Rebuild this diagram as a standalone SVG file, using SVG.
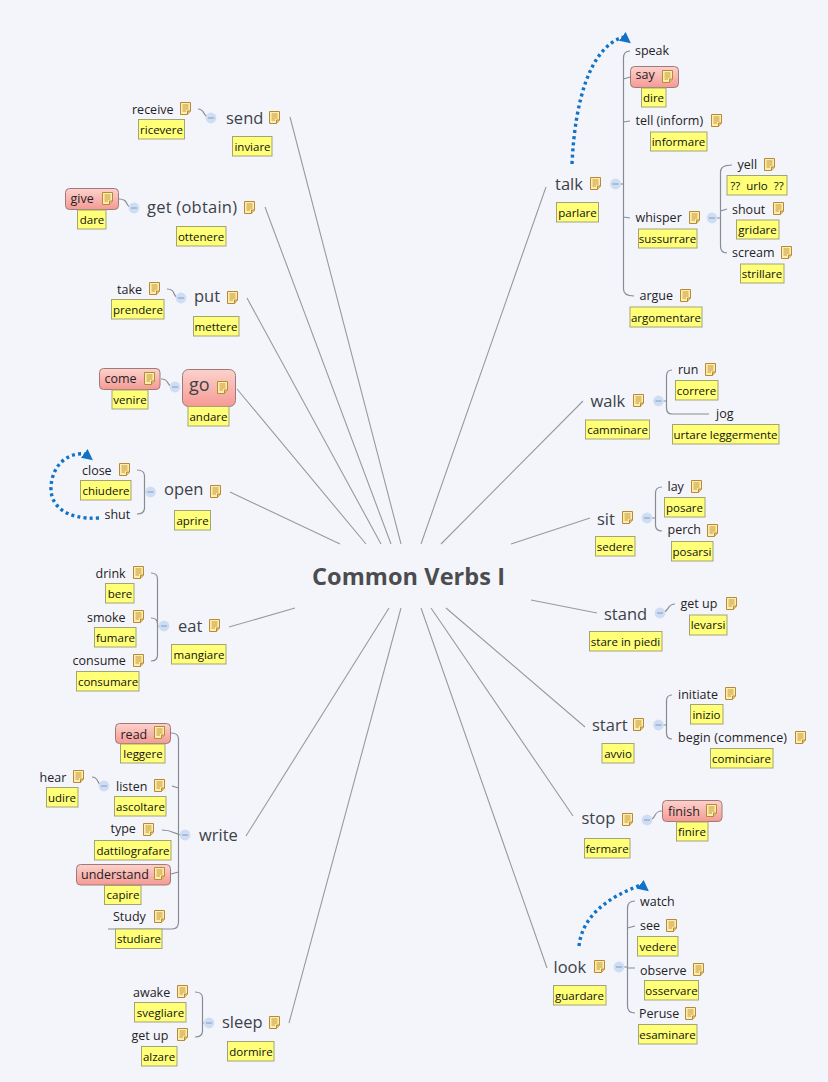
<svg xmlns="http://www.w3.org/2000/svg" width="828" height="1082" viewBox="0 0 828 1082">
<style>
text{font-family:"Open Sans","Noto Sans","Liberation Sans",sans-serif;}
.m{font-size:16.500px;fill:#3d4149}
.s{font-size:12.500px;fill:#1f2228}
.c{font-size:11.500px;fill:#111;text-anchor:middle}
.l{fill:#ffff78;stroke:#a3a37a;stroke-width:1}
.p{fill:url(#pink);stroke:#a07a7a;stroke-width:1}
.t{fill:none;stroke:#9a9a9a;stroke-width:1.1}
.b{fill:none;stroke:#868b94;stroke-width:1.2}
.r{fill:none;stroke:#1272c8;stroke-width:3.4;stroke-dasharray:3 3.2}
</style>
<defs>
<linearGradient id="pink" x1="0" y1="0" x2="0" y2="1"><stop offset="0" stop-color="#fcd2cc"/><stop offset="1" stop-color="#f59a94"/></linearGradient>
<marker id="arrow" viewBox="0 0 11 11" refX="1" refY="5.500" markerWidth="11" markerHeight="11" markerUnits="userSpaceOnUse" orient="38"><path d="M0 0L11 5.500L0 11Z" fill="#1272c8"/></marker>
<g id="note"><path d="M.5 .5H10.500V9L7.500 12.500H.5Z" fill="#fbeeb0" stroke="#b88a35"/><path d="M2.500 3H8.500M2.500 5H8.500M2.500 7H8.500M2.500 9H6" stroke="#c9962f" fill="none"/><path d="M10.500 9H7.500V12.500" fill="#e8c870" stroke="#b88a35"/></g>
<g id="tog"><circle r="5.400" fill="#cfddf2"/><path d="M-3 0H3" stroke="#7f9cc8" fill="none"/></g>
</defs>
<rect width="828" height="1082" fill="#f3f5fa"/>
<g id="connectors">
<path class="t" d="M421 544L546 187M401 544L290 117M391 544L265 207M381 544L247 298M366 544L237 389M340 544L230 492M295 608L229 627M389 608L246 836M401 608L289 1023M421 608L547 968M431 608L573 816M446 608L585 727M531 600L597 613M511 544L590 518M441 544L583 401"/>
<path class="b" d="M630 51Q623.500 51 623.500 58V289Q623.500 296 634 296M623.500 79L630 77M623.500 122L630 121M623.500 217L630 218M618 184H623.500"/>
<path class="b" d="M732 165Q720.500 165 720.500 172V246Q720.500 253 727 253M720.500 211L727 209M715 218H720.500"/>
<path class="b" d="M198 109C206 109 202 118 211 118M119 199C130 199 124 208 134 208M167 289C177 289 171 298 181 298M161 379C171 379 165 387 175 387"/>
<path class="b" d="M137 470Q144.500 470 144.500 476V508Q144.500 514 137 514M144.500 492H150"/>
<path class="b" d="M151 573Q157.500 573 157.500 579V655Q157.500 661 151 661M151 618Q157.500 618 157.500 624M157.500 626H164"/>
<path class="b" d="M171 733Q178.500 733 178.500 739V922Q178.500 929 172 929H108M172 786L178.500 788M162 830C175 830 172 835 185 835M171 874L178.500 872M92 777C100 777 96 786 104 786"/>
<path class="b" d="M195 992Q202.500 992 202.500 998V1031Q202.500 1037 195 1037M202.500 1023H209"/>
<path class="b" d="M672 370Q666.500 370 666.500 376V408Q666.500 414 672 414H709M666.500 401H660"/>
<path class="b" d="M662 487Q655.500 487 655.500 493V525Q655.500 531 662 531M655.500 518H648"/>
<path class="b" d="M660 613C670 613 666 604 675 604"/>
<path class="b" d="M672 695Q666.500 695 666.500 701V733Q666.500 739 672 739M666.500 725H659"/>
<path class="b" d="M647 820C658 820 652 811 662 811"/>
<path class="b" d="M635 901Q627.500 901 627.500 908V1006Q627.500 1013 635 1013M627.500 928L635 926M627.500 968H635M619 967H627.500"/>
<path class="r" d="M572 164C575 100 590 48 623 37" marker-end="url(#arrow)"/>
<path class="r" d="M99 518C65 520 50 505 51 487C52 465 68 452 85 454" marker-end="url(#arrow)"/>
<path class="r" d="M579 946C582 918 605 898 641 885" marker-end="url(#arrow)"/>
</g>
<g id="center"><text x="312" y="585" font-size="23.500" font-weight="700" fill="#4a4c50" textLength="193">Common Verbs I</text></g>
<g id="talk"><text class="m" x="555" y="190">talk</text><use href="#note" x="590" y="177"/><use href="#tog" x="615.500" y="184"/><rect class="l" x="556.500" y="202.500" width="42" height="19.500"/><text class="c" x="577.500" y="217">parlare</text></g>
<g id="speak"><text class="s" x="635" y="55">speak</text></g>
<g id="say"><rect class="p" x="630.500" y="66.500" width="48" height="21" rx="4"/><text class="s" x="635.500" y="79">say</text><use href="#note" x="662" y="70"/><rect class="l" x="641.500" y="88" width="24.500" height="19"/><text class="c" x="653.500" y="102">dire</text></g>
<g id="tell"><text class="s" x="635.500" y="125">tell (inform)</text><use href="#note" x="711" y="114"/><rect class="l" x="650.500" y="132" width="56.500" height="19"/><text class="c" x="678.500" y="146">informare</text></g>
<g id="whisper"><text class="s" x="635.500" y="222">whisper</text><use href="#note" x="689" y="211"/><use href="#tog" x="712" y="218"/><rect class="l" x="638.500" y="229" width="58.500" height="19"/><text class="c" x="667.500" y="243">sussurrare</text></g>
<g id="argue"><text class="s" x="639.500" y="300">argue</text><use href="#note" x="680" y="289"/><rect class="l" x="630" y="307" width="72" height="20"/><text class="c" x="666" y="322">argomentare</text></g>
<g id="yell"><text class="s" x="737.500" y="169">yell</text><use href="#note" x="764" y="158"/><rect class="l" x="727" y="175.500" width="60" height="19.500"/><text class="c" x="757" y="190" xml:space="preserve">??  urlo  ??</text></g>
<g id="shout"><text class="s" x="732" y="214">shout</text><use href="#note" x="773" y="202"/><rect class="l" x="736.500" y="220" width="42.500" height="19"/><text class="c" x="757.500" y="234">gridare</text></g>
<g id="scream"><text class="s" x="732" y="257">scream</text><use href="#note" x="781" y="246"/><rect class="l" x="740.500" y="264" width="43.500" height="19"/><text class="c" x="762" y="278">strillare</text></g>
<g id="walk"><text class="m" x="590.500" y="407">walk</text><use href="#note" x="633" y="394"/><use href="#tog" x="658.500" y="401"/><rect class="l" x="585.500" y="420" width="64" height="19"/><text class="c" x="617.500" y="434">camminare</text></g>
<g id="run"><text class="s" x="678" y="374">run</text><use href="#note" x="705" y="363"/><rect class="l" x="675.500" y="380.500" width="42.500" height="19.500"/><text class="c" x="696.500" y="395">correre</text></g>
<g id="jog"><text class="s" x="716" y="418">jog</text><rect class="l" x="672.500" y="424.500" width="106.500" height="19.500"/><text class="c" x="725.500" y="439">urtare leggermente</text></g>
<g id="sit"><text class="m" x="597" y="525">sit</text><use href="#note" x="622" y="511"/><use href="#tog" x="647" y="518"/><rect class="l" x="595.500" y="536.500" width="39.500" height="19.500"/><text class="c" x="615" y="551">sedere</text></g>
<g id="lay"><text class="s" x="667.500" y="491">lay</text><use href="#note" x="691" y="480"/><rect class="l" x="664.500" y="497.500" width="40.500" height="19.500"/><text class="c" x="684.500" y="512">posare</text></g>
<g id="perch"><text class="s" x="667.500" y="534">perch</text><use href="#note" x="707" y="524"/><rect class="l" x="671.500" y="541.500" width="41.500" height="19.500"/><text class="c" x="692" y="556">posarsi</text></g>
<g id="stand"><text class="m" x="604" y="620">stand</text><use href="#tog" x="660" y="613"/><rect class="l" x="589.500" y="631.500" width="72.500" height="19.500"/><text class="c" x="625.500" y="646">stare in piedi</text></g>
<g id="getup2"><text class="s" x="680.500" y="608">get up</text><use href="#note" x="726" y="597"/><rect class="l" x="689.500" y="615" width="37.500" height="20"/><text class="c" x="708" y="629">levarsi</text></g>
<g id="start"><text class="m" x="592" y="731">start</text><use href="#note" x="633" y="718"/><use href="#tog" x="658.500" y="725"/><rect class="l" x="602" y="743.500" width="32" height="19.500"/><text class="c" x="618" y="758">avvio</text></g>
<g id="initiate"><text class="s" x="678" y="699">initiate</text><use href="#note" x="725" y="687"/><rect class="l" x="690.500" y="704.500" width="32.500" height="19.500"/><text class="c" x="706.500" y="719">inizio</text></g>
<g id="begin"><text class="s" x="678" y="742" textLength="109">begin (commence)</text><use href="#note" x="795" y="731"/><rect class="l" x="710.500" y="748.500" width="62.500" height="19.500"/><text class="c" x="741.500" y="763">cominciare</text></g>
<g id="stop"><text class="m" x="581.500" y="824">stop</text><use href="#note" x="622" y="813"/><use href="#tog" x="647" y="820"/><rect class="l" x="584.500" y="838.500" width="45.500" height="19.500"/><text class="c" x="607" y="853">fermare</text></g>
<g id="finish"><rect class="p" x="662.500" y="800.500" width="59.500" height="21" rx="4"/><text class="s" x="668" y="816">finish</text><use href="#note" x="706" y="804"/><rect class="l" x="676.500" y="822" width="31.500" height="19"/><text class="c" x="692" y="836">finire</text></g>
<g id="look"><text class="m" x="553.500" y="973">look</text><use href="#note" x="594" y="960"/><use href="#tog" x="619" y="967"/><rect class="l" x="553.500" y="985.500" width="52.500" height="19.500"/><text class="c" x="579.500" y="1000">guardare</text></g>
<g id="watch"><text class="s" x="640" y="906">watch</text></g>
<g id="see"><text class="s" x="640" y="930">see</text><use href="#note" x="666" y="919"/><rect class="l" x="637.500" y="936.500" width="40.500" height="19.500"/><text class="c" x="658" y="951">vedere</text></g>
<g id="observe"><text class="s" x="640" y="975">observe</text><use href="#note" x="693" y="963"/><rect class="l" x="644.500" y="980.500" width="54" height="19.500"/><text class="c" x="671.500" y="995">osservare</text></g>
<g id="peruse"><text class="s" x="639" y="1018">Peruse</text><use href="#note" x="685" y="1007"/><rect class="l" x="638.500" y="1024.500" width="58.500" height="19.500"/><text class="c" x="667.500" y="1039">esaminare</text></g>
<g id="send"><text class="m" x="226" y="124">send</text><use href="#note" x="269" y="111"/><use href="#tog" x="211" y="118"/><rect class="l" x="232.500" y="136.500" width="39.500" height="19.500"/><text class="c" x="252.500" y="151">inviare</text></g>
<g id="receive"><text class="s" x="132" y="114">receive</text><use href="#note" x="180" y="102"/><rect class="l" x="138.500" y="119.500" width="46" height="19.500"/><text class="c" x="161.500" y="134">ricevere</text></g>
<g id="get"><text class="m" x="147" y="213" textLength="90">get (obtain)</text><use href="#note" x="244" y="201"/><use href="#tog" x="134" y="208"/><rect class="l" x="176.500" y="226.500" width="49.500" height="19.500"/><text class="c" x="201" y="241">ottenere</text></g>
<g id="give"><rect class="p" x="65.500" y="188.500" width="53" height="21" rx="4"/><text class="s" x="70.500" y="203">give</text><use href="#note" x="102" y="192"/><rect class="l" x="77.500" y="210" width="28.500" height="19"/><text class="c" x="92" y="224">dare</text></g>
<g id="put"><text class="m" x="194" y="302">put</text><use href="#note" x="227" y="291"/><use href="#tog" x="181" y="298"/><rect class="l" x="193.500" y="316.500" width="45.500" height="19.500"/><text class="c" x="216" y="331">mettere</text></g>
<g id="take"><text class="s" x="117" y="294">take</text><use href="#note" x="149" y="282"/><rect class="l" x="111.500" y="299.500" width="52.500" height="19.500"/><text class="c" x="138" y="314">prendere</text></g>
<g id="go"><rect class="p" x="182.500" y="369.500" width="53" height="37" rx="6"/><text class="m" x="189" y="391" style="font-size:18px">go</text><use href="#note" x="217" y="381"/><use href="#tog" x="175" y="387"/><rect class="l" x="188" y="406.500" width="41" height="19.500"/><text class="c" x="208.500" y="421">andare</text></g>
<g id="come"><rect class="p" x="99.500" y="368.500" width="60.500" height="21" rx="4"/><text class="s" x="104.500" y="383">come</text><use href="#note" x="144" y="372"/><rect class="l" x="112" y="390" width="36" height="19"/><text class="c" x="130" y="404">venire</text></g>
<g id="open"><text class="m" x="164" y="495">open</text><use href="#note" x="210" y="485"/><use href="#tog" x="150.500" y="492"/><rect class="l" x="174.500" y="510.500" width="36" height="19.500"/><text class="c" x="192.500" y="525">aprire</text></g>
<g id="close"><text class="s" x="82" y="475">close</text><use href="#note" x="119" y="463"/><rect class="l" x="80.500" y="480.500" width="50.500" height="19.500"/><text class="c" x="106" y="495">chiudere</text></g>
<g id="shut"><text class="s" x="104.500" y="519">shut</text></g>
<g id="eat"><text class="m" x="178" y="632">eat</text><use href="#note" x="209" y="619"/><use href="#tog" x="164" y="626"/><rect class="l" x="171.500" y="644.500" width="54.500" height="19.500"/><text class="c" x="199" y="659">mangiare</text></g>
<g id="drink"><text class="s" x="95.500" y="578">drink</text><use href="#note" x="133" y="566"/><rect class="l" x="105.500" y="583.500" width="28.500" height="19.500"/><text class="c" x="120" y="598">bere</text></g>
<g id="smoke"><text class="s" x="87" y="622">smoke</text><use href="#note" x="133" y="610"/><rect class="l" x="94.500" y="627.500" width="41.500" height="19.500"/><text class="c" x="115.500" y="642">fumare</text></g>
<g id="consume"><text class="s" x="72.500" y="665">consume</text><use href="#note" x="133" y="654"/><rect class="l" x="76.500" y="671.500" width="62.500" height="19.500"/><text class="c" x="108" y="686">consumare</text></g>
<g id="write"><text class="m" x="199" y="841">write</text><use href="#tog" x="185" y="835"/></g>
<g id="read"><rect class="p" x="115.500" y="723.500" width="55" height="20" rx="4"/><text class="s" x="120.500" y="739">read</text><use href="#note" x="154" y="726"/><rect class="l" x="120.500" y="744" width="44.500" height="19"/><text class="c" x="143" y="758">leggere</text></g>
<g id="listen"><text class="s" x="116" y="791">listen</text><use href="#note" x="154" y="779"/><use href="#tog" x="104" y="786"/><rect class="l" x="114.500" y="796.500" width="51.500" height="19.500"/><text class="c" x="140.500" y="811">ascoltare</text></g>
<g id="hear"><text class="s" x="39.500" y="782">hear</text><use href="#note" x="73" y="770"/><rect class="l" x="46.500" y="787.500" width="31.500" height="19.500"/><text class="c" x="62" y="802">udire</text></g>
<g id="type"><text class="s" x="110.500" y="833">type</text><use href="#note" x="143" y="823"/><rect class="l" x="94.500" y="840.500" width="76.500" height="19.500"/><text class="c" x="133" y="855">dattilografare</text></g>
<g id="understand"><rect class="p" x="76.500" y="864.500" width="94" height="20.500" rx="4"/><text class="s" x="81" y="879">understand</text><use href="#note" x="154" y="867"/><rect class="l" x="104.500" y="885.500" width="36.500" height="19"/><text class="c" x="123" y="899">capire</text></g>
<g id="study"><text class="s" x="113" y="921">Study</text><use href="#note" x="154" y="910"/><rect class="l" x="115.500" y="929" width="46.500" height="19.500"/><text class="c" x="139" y="943">studiare</text></g>
<g id="sleep"><text class="m" x="222" y="1028">sleep</text><use href="#note" x="269" y="1016"/><use href="#tog" x="209" y="1023"/><rect class="l" x="227.500" y="1041.500" width="46.500" height="19.500"/><text class="c" x="251" y="1056">dormire</text></g>
<g id="awake"><text class="s" x="133" y="997">awake</text><use href="#note" x="177" y="985"/><rect class="l" x="134.500" y="1002.500" width="51.500" height="19.500"/><text class="c" x="160.500" y="1017">svegliare</text></g>
<g id="getup"><text class="s" x="131.500" y="1040">get up</text><use href="#note" x="177" y="1028"/><rect class="l" x="141.500" y="1046.500" width="35.500" height="19.500"/><text class="c" x="159" y="1061">alzare</text></g>
</svg>
